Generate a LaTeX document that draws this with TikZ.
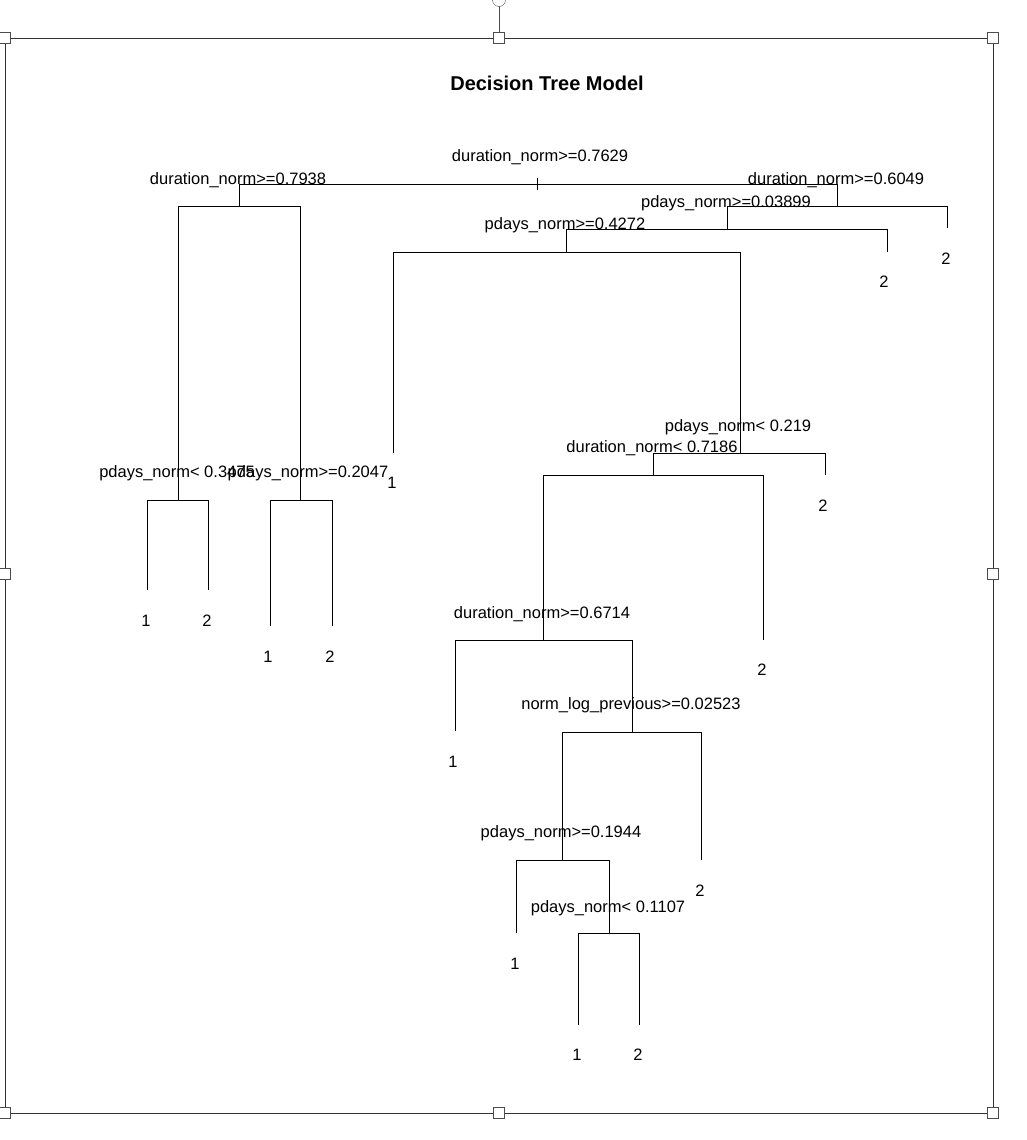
\documentclass[tikz,border=0pt]{standalone}
\usepackage{fontspec}
\setmainfont{Liberation Sans}
\begin{document}
\begin{tikzpicture}[x=1pt,y=-1pt,
  lab/.style={font=\fontsize{16.5}{18}\selectfont,inner sep=0pt,anchor=base},
  leaf/.style={font=\fontsize{16.5}{18}\selectfont,inner sep=0pt},
  br/.style={line width=0.8pt},
  handle/.style={draw=black!70,fill=white,minimum size=11pt,inner sep=0pt,line width=0.6pt}]
\useasboundingbox (0,0) rectangle (1026,1140);
% frame
\draw[black!80,line width=0.7pt] (5,38) rectangle (993,1113);
\coordinate (rt) at (499,6);
\coordinate (tm) at (499,38);
\draw[black!70] (rt) -- (tm);
\node[draw=black!70,fill=white,circle,minimum size=13pt,inner sep=0pt] (rot) at (499,0) {};
\foreach \p/\n in {{5,38}/h1,{499,38}/h2,{993,38}/h3,{5,574}/h4,{993,574}/h5,{5,1113}/h6,{499,1113}/h7,{993,1113}/h8}
  \node[handle] (\n) at (\p) {};
\node[font=\fontsize{20}{22}\selectfont\bfseries,inner sep=0pt] (title) at (547,83) {Decision Tree Model};
% labels
\node[lab] (l0) at (540,161) {duration\_norm>=0.7629};
\node[lab] (l1) at (238,184) {duration\_norm>=0.7938};
\node[lab] (l2) at (836,184) {duration\_norm>=0.6049};
\node[lab] (l3) at (177,477) {pdays\_norm< 0.3475};
\node[lab] (l4) at (308,477) {pdays\_norm>=0.2047};
\node[lab] (l5) at (726,207) {pdays\_norm>=0.03899};
\node[lab] (l6) at (565,229) {pdays\_norm>=0.4272};
\node[lab] (l7) at (738,431) {pdays\_norm< 0.219};
\node[lab] (l8) at (652,452) {duration\_norm< 0.7186};
\node[lab] (l9) at (542,618) {duration\_norm>=0.6714};
\node[lab] (l10) at (631,709) {norm\_log\_previous>=0.02523};
\node[lab] (l11) at (561,837) {pdays\_norm>=0.1944};
\node[lab] (l12) at (608,912) {pdays\_norm< 0.1107};
% leaves
\foreach \p/\t/\n in {{146,621}/1/a,{207,621}/2/b,{268,657}/1/c,{330,657}/2/d,{946,259}/2/e,{884,282}/2/f,{392,483}/1/g,{823,506}/2/h,{762,670}/2/i,{453,762}/1/j,{700,891}/2/k,{515,964}/1/m,{577,1055}/1/n,{638,1055}/2/o}
  \node[leaf] (f\n) at (\p) {\t};
% branches
\draw[br] (537,178) -- (537,190);
\draw[br] (239,206) -- (239,184) -- (837,184) -- (837,206);
\draw[br] (178,500) -- (178,206) -- (300,206) -- (300,500);
\draw[br] (147,590) -- (147,500) -- (208,500) -- (208,590);
\draw[br] (270,626) -- (270,500) -- (332,500) -- (332,626);
\draw[br] (727,229) -- (727,206) -- (947,206) -- (947,228);
\draw[br] (566,252) -- (566,229) -- (887,229) -- (887,252);
\draw[br] (393,453) -- (393,252) -- (740,252) -- (740,453);
\draw[br] (653,475) -- (653,453) -- (825,453) -- (825,475);
\draw[br] (543,640) -- (543,475) -- (763,475) -- (763,640);
\draw[br] (455,731) -- (455,640) -- (632,640) -- (632,732);
\draw[br] (562,860) -- (562,732) -- (701,732) -- (701,860);
\draw[br] (516,933) -- (516,860) -- (609,860) -- (609,933);
\draw[br] (578,1025) -- (578,933) -- (639,933) -- (639,1025);
\end{tikzpicture}
\end{document}
